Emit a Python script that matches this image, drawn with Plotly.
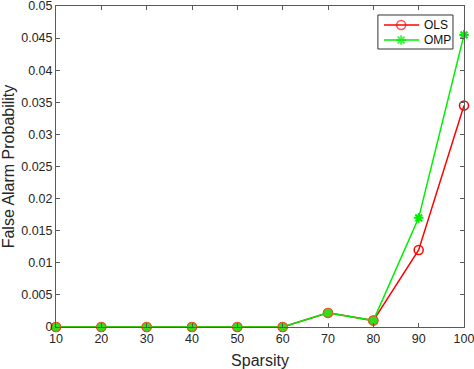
import plotly.graph_objects as go

sparsity = [10, 20, 30, 40, 50, 60, 70, 80, 90, 100]
ols = [0, 0, 0, 0, 0, 0, 0.0022, 0.001, 0.012, 0.0345]
omp = [0, 0, 0, 0, 0, 0, 0.0022, 0.001, 0.017, 0.0455]
yticks = [0, 0.005, 0.01, 0.015, 0.02, 0.025, 0.03, 0.035, 0.04, 0.045, 0.05]
ytick_text = ["0", "0.005", "0.01", "0.015", "0.02", "0.025", "0.03", "0.035", "0.04", "0.045", "0.05"]
series_names = ["OLS", "OMP"]

FONT = "Liberation Sans, Arial, Helvetica"
TXT = "#262626"
RED = "#ff0000"
GREEN = "#00ee00"

fig = go.Figure()
fig.add_trace(go.Scatter(
    x=sparsity, y=ols, name=series_names[0], mode="lines+markers", showlegend=False,
    line=dict(color=RED, width=1.5),
    marker=dict(symbol="circle-open", size=9, color=RED, line=dict(width=1.5)),
    cliponaxis=False,
))
fig.add_trace(go.Scatter(
    x=sparsity, y=omp, name=series_names[1], mode="lines+markers", showlegend=False,
    line=dict(color=GREEN, width=1.5),
    marker=dict(symbol="asterisk-open", size=8, color=GREEN, line=dict(width=2, color=GREEN)),
    cliponaxis=False,
))
# overlapping points: OMP asterisk inside OLS circle renders as a filled green dot
fig.add_trace(go.Scatter(
    x=sparsity[:8], y=omp[:8], mode="markers", showlegend=False,
    marker=dict(symbol="circle", size=9, color="#2ee01a", line=dict(width=1, color="#e8602a")),
    cliponaxis=False, hoverinfo="skip",
))

# MATLAB-style legend box drawn on an invisible overlay axis (0..1 over the plot area)
leg_x0, leg_x1, leg_y0, leg_y1 = 0.789, 0.973, 0.866, 0.972
rows = [0.941, 0.894]
styles = [
    dict(line=dict(color=RED, width=1.5),
         marker=dict(symbol="circle-open", size=[0, 9, 0], color=RED, line=dict(width=1.5))),
    dict(line=dict(color=GREEN, width=1.5),
         marker=dict(symbol="asterisk-open", size=[0, 8, 0], color=GREEN, line=dict(width=2, color=GREEN))),
]
fig.add_shape(type="rect", xref="x domain", yref="y domain",
              x0=leg_x0, x1=leg_x1, y0=leg_y0, y1=leg_y1,
              line=dict(color="#333333", width=1), fillcolor="white", layer="below")
for name, ry, st in zip(series_names, rows, styles):
    fig.add_trace(go.Scatter(
        x=[0.804, 0.846, 0.890], y=[ry, ry, ry], xaxis="x2", yaxis="y2",
        mode="lines+markers", showlegend=False, hoverinfo="skip", cliponaxis=False, **st))
    fig.add_annotation(text=name, xref="x domain", yref="y domain", x=0.898, y=ry,
                       xanchor="left", yanchor="middle", showarrow=False,
                       font=dict(family=FONT, size=12, color="#111111"))

axis_common = dict(
    showline=True, linecolor="#5a5a5a", linewidth=1, mirror="ticks",
    ticks="inside", ticklen=4, tickcolor="#5a5a5a", showgrid=False, zeroline=False,
    tickfont=dict(family=FONT, size=12.5, color=TXT), automargin=False,
    ticklabeloverflow="allow",
)
fig.update_xaxes(range=[10, 100], tickvals=sparsity,
                 title=dict(text="Sparsity", font=dict(family=FONT, size=16, color=TXT), standoff=9),
                 **axis_common)
fig.update_yaxes(range=[0, 0.05], tickvals=yticks, ticktext=ytick_text,
                 title=dict(text="False Alarm Probability", font=dict(family=FONT, size=16, color=TXT), standoff=7),
                 **axis_common)
fig.update_layout(
    width=474, height=369,
    margin=dict(l=56, r=10, t=6, b=42, autoexpand=False),
    plot_bgcolor="white", paper_bgcolor="white",
    showlegend=False,
    xaxis2=dict(overlaying="x", range=[0, 1], visible=False, fixedrange=True),
    yaxis2=dict(overlaying="y", range=[0, 1], visible=False, fixedrange=True),
)
fig.write_html("out.html", config={"displayModeBar": False},
               post_script="document.body.style.margin='0';document.body.style.overflow='hidden';")
